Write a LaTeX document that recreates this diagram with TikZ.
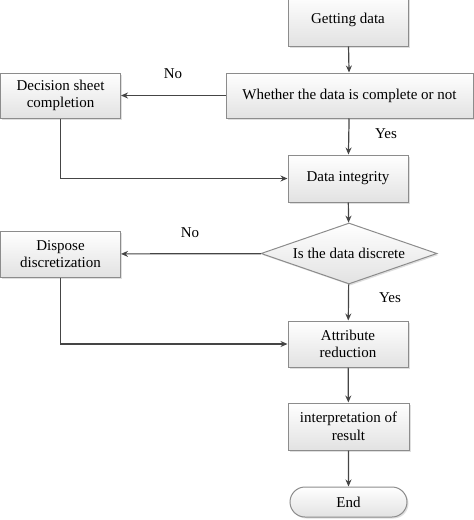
\documentclass[tikz,border=0pt]{standalone}
\usepackage{fontspec}
\setmainfont{Liberation Serif}
\usetikzlibrary{shapes.geometric,shapes.misc,arrows.meta,shadows}
\definecolor{linec}{HTML}{454545}
\definecolor{boxc}{HTML}{8C8C8C}
\definecolor{fillb}{HTML}{E2E2E2}
\tikzset{
  box/.style={draw=boxc, line width=1pt, top color=white, bottom color=fillb,
    drop shadow={shadow xshift=1.5pt, shadow yshift=-1.5pt, opacity=0.25},
    align=center, inner sep=0pt, font=\fontsize{15}{17.5}\selectfont},
  dia/.style={box, diamond, aspect=2.9},
  term/.style={box, rounded rectangle},
  arr/.style={draw=linec, line width=1.2pt, -{Stealth[length=7pt,width=6pt]}},
  lab/.style={font=\fontsize{15}{17.5}\selectfont, inner sep=0pt}
}
\begin{document}
\begin{tikzpicture}[x=1pt,y=-1pt]
\useasboundingbox (0,0) rectangle (474,520);
\node[box, minimum width=120pt, minimum height=52pt] (get) at (348,20) {Getting data};
\node[box, minimum width=247pt, minimum height=45pt] (whe) at (349.5,95.5) {Whether the data is complete or not};
\node[box, minimum width=120pt, minimum height=45pt] (dsc) at (60.5,95.5) {Decision sheet\\completion};
\node[box, minimum width=120pt, minimum height=47pt] (int) at (348,178.5) {Data integrity};
\node[dia, minimum width=176pt, minimum height=61pt] (dis) at (349,253.5) {Is the data discrete};
\node[box, minimum width=120pt, minimum height=46pt] (dd) at (60.5,254) {Dispose\\discretization};
\node[box, minimum width=120pt, minimum height=46pt] (att) at (348,344) {Attribute\\reduction};
\node[box, minimum width=121pt, minimum height=47pt] (itp) at (348.5,426.5) {interpretation of\\result};
\node[term, minimum width=117pt, minimum height=30pt] (end) at (348.5,502) {End};
\draw[arr] (get) -- (whe);
\draw[arr] (whe) -- (dsc);
\draw[arr] (whe) -- (int);
\draw[arr] (dsc.south) |- (int.west);
\draw[arr] (int) -- (dis);
\draw[arr] (dis) -- (dd);
\draw[arr] (dis) -- (att);
\draw[arr] (dd.south) |- (att.west);
\draw[arr] (att) -- (itp);
\draw[arr] (itp) -- (end);
\node[lab] (no1) at (173,74) {No};
\node[lab] (yes1) at (386,134) {Yes};
\node[lab] (no2) at (190,233) {No};
\node[lab] (yes2) at (390,298) {Yes};
\end{tikzpicture}
\end{document}
